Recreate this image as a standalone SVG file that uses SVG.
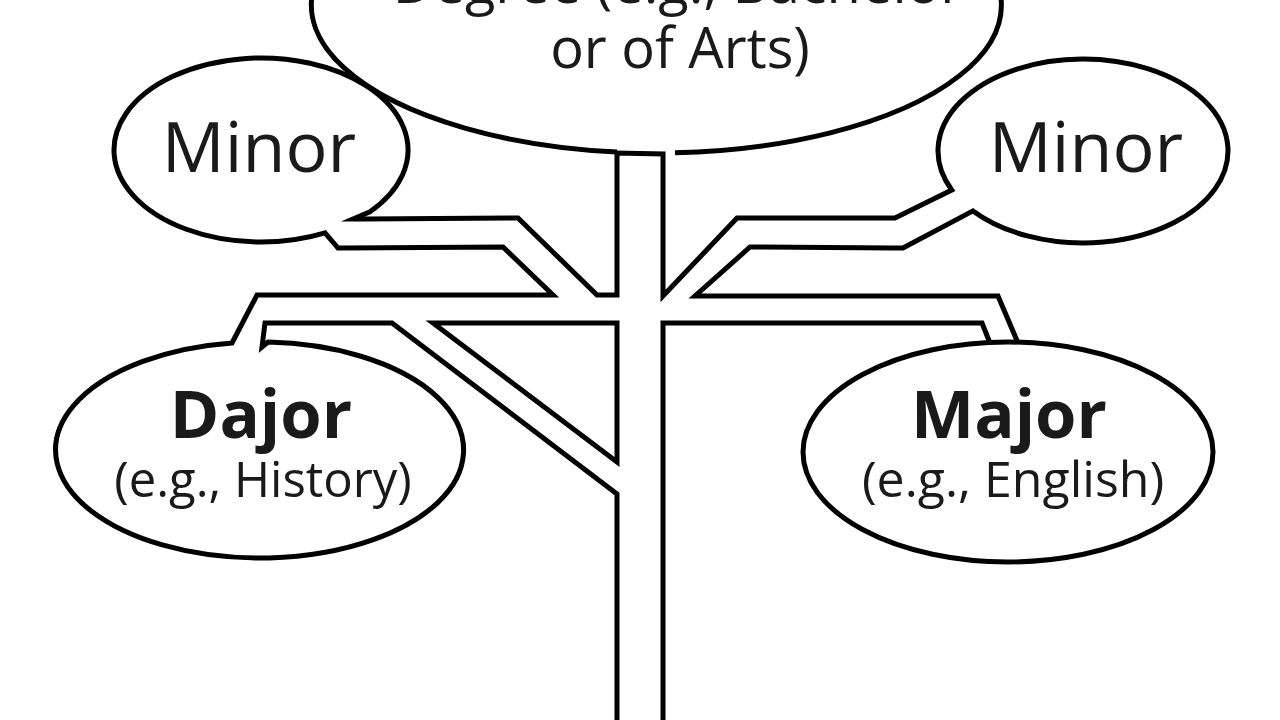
<svg xmlns="http://www.w3.org/2000/svg" width="1280" height="720" viewBox="0 0 1280 720">
<style>
.ol{fill:none;stroke:#000;stroke-width:5;stroke-linejoin:miter;stroke-miterlimit:10;stroke-linecap:butt}
.t{font-family:"Open Sans","Noto Sans",sans-serif;fill:#1a1a1a;text-anchor:middle}
.b{font-weight:bold}
</style>
<rect width="1280" height="720" fill="#fff"/>
<g id="degree">
<path class="ol" d="M617,152.05 A345 148 0 1 1 675,152.8"/>
<text class="t" x="678" y="3" font-size="56">Degree (e.g., Bachelor</text>
<text class="t" x="680" y="68" font-size="56">or of Arts)</text>
</g>
<g id="minor-left">
<path class="ol" d="M345,248 L338,248 L325,232.8 A147 92 0 1 1 370,211.7 L353,219 L365,219"/>
<text class="t" x="259" y="172" font-size="70">Minor</text>
</g>
<g id="minor-right">
<path class="ol" d="M885,218 L895,218 L951.7,190 A145 92 0 1 1 973,210.9 L903,248 L893,248"/>
<text class="t" x="1086" y="172" font-size="70">Minor</text>
</g>
<g id="major-left">
<path class="ol" d="M262,295 L257,295 L232,343 A204 108 0 1 0 268,342.1 L262,347 L265,323 L270,323"/>
<text class="t b" x="261" y="438" font-size="67">Dajor</text>
<text class="t" x="263" y="497" font-size="49">(e.g., History)</text>
</g>
<g id="major-right">
<ellipse class="ol" cx="1008" cy="452" rx="205" ry="110"/>
<text class="t b" x="1009" y="438" font-size="67">Major</text>
<text class="t" x="1013" y="497" font-size="50">(e.g., English)</text>
</g>
<g id="connectors">
<path class="ol" d="M365,219 L518,218 L597,295 L617,295 L617,153 L663,154 L663,296 L737,218 L885,218"/>
<path class="ol" d="M345,248 L503,247 L553,295 L262,295"/>
<path class="ol" d="M270,323 L392,323 L617,494 L617,725"/>
<path class="ol" d="M433,323 L617,323 L617,462 Z"/>
<path class="ol" d="M893,248 L750,247 L695,296 L998,296 L1018,343"/>
<path class="ol" d="M663,725 L663,323 L982,323 L990,343"/>
</g>
</svg>
